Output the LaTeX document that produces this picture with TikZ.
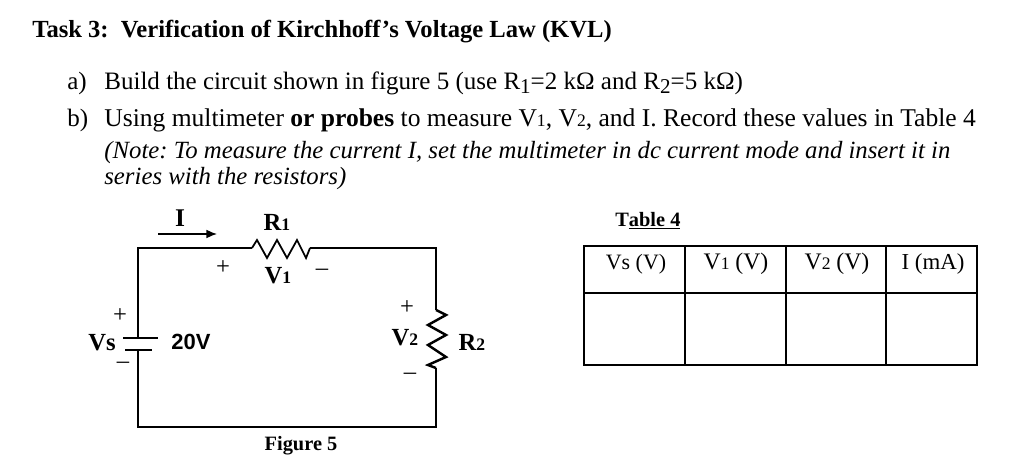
\documentclass[tikz,border=0pt]{standalone}
\usepackage{fontspec}
\usetikzlibrary{arrows.meta}
\setmainfont{Liberation Serif}
\newfontfamily\labelsans{Liberation Sans}
\newcommand{\lowdigit}[1]{\raisebox{-2pt}{\fontsize{12}{12}\selectfont #1}}
\newcommand{\smalldigit}[1]{{\fontsize{10}{10}\selectfont #1}}

\tikzset{
  wire/.style = {line width = 1.4pt, line join = miter},
  thinline/.style = {line width = 0.8pt},
  coilline/.style = {line width = 1pt},
  textline/.style = {anchor = base west, inner sep = 0pt, font = \fontsize{14.25}{14}\selectfont},
  circuitlabel/.style = {inner sep = 0pt, font = \fontsize{11.6}{11.6}\selectfont\bfseries},
  signlabel/.style = {inner sep = 0pt, font = \fontsize{14}{14}\selectfont},
  tablelabel/.style = {inner sep = 0pt, font = \fontsize{12.5}{12.5}\selectfont}
}

\begin{document}
\frenchspacing
\begin{tikzpicture}[x = 0.02cm, y = -0.02cm]
  \useasboundingbox (0, 0) rectangle (1024, 473);

  % heading and questions
  \node[textline, font = \fontsize{14}{14}\selectfont\bfseries] (title) at (32, 38) {Task 3:\ \ Verification of Kirchhoff’s Voltage Law (KVL)};
  \node[textline] (parta) at (67, 90) {a)};
  \node[textline] (parttexta) at (104, 90) {Build the circuit shown in figure 5 (use R\lowdigit{1}=2 kΩ and R\lowdigit{2}=5 kΩ)};
  \node[textline] (partb) at (67, 127) {b)};
  \node[textline, font = \fontsize{14.55}{14}\selectfont] (parttextb) at (104, 127) {Using multimeter \textbf{or probes} to measure V\smalldigit{1}, V\smalldigit{2}, and I. Record these values in Table 4};
  \node[textline, font = \fontsize{14.1}{14}\selectfont\itshape] (note) at (104, 158) {(Note: To measure the current I, set the multimeter in dc current mode and insert it in};
  \node[textline, font = \fontsize{14.1}{14}\selectfont\itshape] (notetwo) at (104, 184) {series with the resistors)};

  % circuit corners and element ends
  \coordinate (topleft) at (138, 248);
  \coordinate (topright) at (436, 248);
  \coordinate (botright) at (436, 427);
  \coordinate (botleft) at (138, 427);
  \coordinate (rone) at (252, 248);
  \coordinate (ronend) at (310, 248);
  \coordinate (rtwo) at (436, 310);
  \coordinate (rtwoend) at (436, 368);
  \coordinate (platelong) at (138, 338);
  \coordinate (plateshort) at (138, 350);

  \draw[wire] (platelong) -- (topleft) -- (rone);
  \draw[coilline] (rone) -- ++(5, -8) -- ++(10, 18) -- ++(10, -18) -- ++(10, 18) -- ++(10, -18) -- ++(9, 18) -- (ronend);
  \draw[wire] (ronend) -- (topright) -- (rtwo);
  \draw[wire] (rtwo) -- ++(10, 5) -- ++(-18, 10) -- ++(18, 10) -- ++(-18, 10) -- ++(18, 12) -- ++(-18, 8) -- (rtwoend);
  \draw[wire] (rtwoend) -- (botright) -- (botleft) -- (plateshort);

  % source plates
  \draw[wire] (123, 338) -- (158, 338);
  \draw[wire] (125, 350) -- (152, 350);

  % current arrow
  \coordinate (arrowtail) at (158, 234);
  \coordinate (arrowhead) at (217, 234);
  \draw[thinline, -{Latex[length = 6pt, width = 5pt]}] (arrowtail) -- (arrowhead);

  % circuit labels
  \node[circuitlabel, font = \fontsize{14.5}{14.5}\selectfont\bfseries] (ilabel) at (180, 218) {I};
  \node[circuitlabel, font = \fontsize{14}{14}\selectfont\bfseries] (ronelabel) at (277, 222) {R\smalldigit{1}};
  \node[circuitlabel, font = \fontsize{14}{14}\selectfont\bfseries] (vonelabel) at (278, 276) {V\smalldigit{1}};
  \node[circuitlabel, font = \fontsize{14}{14}\selectfont\bfseries] (vslabel) at (102, 343) {Vs};
  \node[circuitlabel, font = \fontsize{14}{14}\selectfont\bfseries] (vtwolabel) at (405, 338) {V\smalldigit{2}};
  \node[circuitlabel, font = \fontsize{14}{14}\selectfont\bfseries] (rtwolabel) at (472, 342) {R\smalldigit{2}};
  \node[circuitlabel, font = \labelsans\fontsize{12.5}{12.5}\selectfont\bfseries] (sourcelabel) at (191, 342) {20V};
  \node[circuitlabel] (figlabel) at (301, 446) {Figure 5};

  \node[signlabel] (plusone) at (223, 268) {+};
  \node[signlabel] (minusone) at (322, 272) {--};
  \node[signlabel] (plustwo) at (407, 308) {+};
  \node[signlabel] (minustwo) at (410, 376) {--};
  \node[signlabel] (pluss) at (120, 316) {+};
  \node[signlabel] (minuss) at (123, 365) {--};

  % table
  \node[circuitlabel, anchor = base west] (tabletitle) at (615, 226) {T\underline{able 4}};
  \draw[thinline] (584, 246) rectangle (977, 365);
  \draw[thinline] (584, 293) -- (977, 293);
  \foreach \colx in {685, 786, 886} {
    \draw[thinline] (\colx, 246) -- (\colx, 365);
  }
  \node[tablelabel] (headvs) at (636, 264) {Vs (V)};
  \node[tablelabel, font = \fontsize{13.5}{13.5}\selectfont] (headvone) at (736, 264) {V\smalldigit{1} (V)};
  \node[tablelabel, font = \fontsize{13.5}{13.5}\selectfont] (headvtwo) at (837, 264) {V\smalldigit{2} (V)};
  \node[tablelabel, font = \fontsize{13}{13}\selectfont] (headi) at (933, 264) {I (mA)};
\end{tikzpicture}
\end{document}
